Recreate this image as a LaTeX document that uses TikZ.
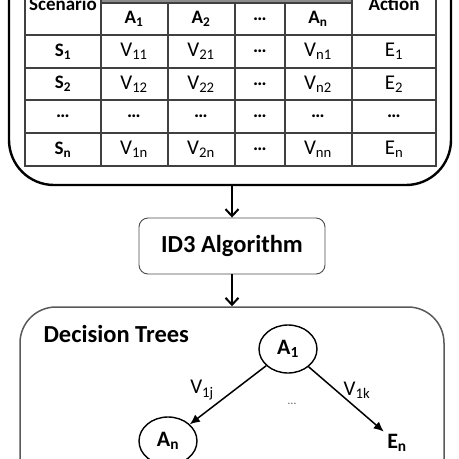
\documentclass[tikz,border=0pt]{standalone}
\usepackage{fontspec}
\setmainfont{Carlito}
\usetikzlibrary{arrows.meta}
\usetikzlibrary{shapes.geometric,positioning}

\begin{document}
\begin{tikzpicture}[x=1pt, y=-1pt]
\tikzset{
panel/.style = {draw, rounded corners=45pt, line width=2.4pt},
treepanel/.style = {draw=black!65, rounded corners=36pt, line width=1.5pt, minimum width=424pt, minimum height=230pt},
algo/.style = {draw=black!70, rounded corners=9pt, line width=0.9pt, minimum width=186pt, minimum height=56pt, font=\fontsize{24.5}{28}\selectfont\bfseries},
grid/.style = {draw=black!75, line width=1.1pt},
head/.style = {font=\fontsize{19}{22}\selectfont\bfseries},
cell/.style = {font=\fontsize{21}{24}\selectfont},
attr/.style = {draw, ellipse, line width=1.4pt, minimum width=58pt, minimum height=48pt, inner sep=0pt, font=\fontsize{22}{26}\selectfont\bfseries},
leaf/.style = {font=\fontsize{22}{26}\selectfont\bfseries},
line/.style = {draw, line width=2pt, -{Straight Barb[length=7pt,width=13pt,line width=2pt]}},
edge/.style = {draw, line width=1.5pt, -{Latex[length=10pt,width=9pt]}}
}

\clip (0,0) rectangle (459,459);

% scenario table
\node [panel, minimum width=442pt, minimum height=250pt] (table) at (230,60) {};
\fill [black!45] (101,-30) rectangle (352,3);
\draw [grid] (25,-30) rectangle (436,166);
\draw [grid] (101,3) -- (352,3);
\foreach \y in {35,68,100,133} \draw [grid] (25,\y) -- (436,\y);
\draw [grid] (101,-30) -- (101,166);
\draw [grid] (352,-30) -- (352,166);
\foreach \x in {168,235,285} \draw [grid] (\x,3) -- (\x,166);

\node [head] (scen) at (63,4) {Scenario};
\node [head] (act) at (394,4) {Action};
\foreach \x/\t [count=\i] in {134/A\textsubscript{1}, 201/A\textsubscript{2}, 260/\ldots, 318/A\textsubscript{n}}
  \node [head] (h\i) at (\x,19) {\t};

\foreach \y/\s [count=\i] in {51.5/1, 84/2, 149.5/n} {
  \node [head] (s\i) at (63,\y) {S\textsubscript{\s}};
  \node [cell] (va\i) at (134,\y) {V\textsubscript{1\s}};
  \node [cell] (vb\i) at (201,\y) {V\textsubscript{2\s}};
  \node [head] (d\i) at (260,\y) {\ldots};
  \node [cell] (vn\i) at (318,\y) {V\textsubscript{n\s}};
  \node [cell] (e\i) at (394,\y) {E\textsubscript{\s}};
}
\foreach \x [count=\i] in {63,134,201,260,318,394}
  \node [head] (dot\i) at (\x,116.5) {\ldots};

% algorithm and tree
\node [algo] (algo) at (232,246) {ID3 Algorithm};
\node [treepanel] (trees) at (232,422) {};
\node [font=\fontsize{24.5}{28}\selectfont\bfseries, anchor=west] (title) at (40,334) {Decision Trees};

\node [attr] (root) at (288,349) {A\textsubscript{1}};
\node [attr] (an) at (168,441) {A\textsubscript{n}};
\node [leaf] (en) at (397,443) {E\textsubscript{n}};
\node [cell] (vj) at (202,390) {V\textsubscript{1j}};
\node [cell] (vk) at (357,390) {V\textsubscript{1k}};
\node [font=\fontsize{12}{14}\selectfont, text=black!60] (more) at (292,404) {\ldots};

\path [line] (algo.north |- table.south) -- (algo.north);
\path [line] (algo.south) -- (algo.south |- trees.north);
\path [edge] (root) -- (an);
\path [edge] (root) -- (en);
\end{tikzpicture}
\end{document}
